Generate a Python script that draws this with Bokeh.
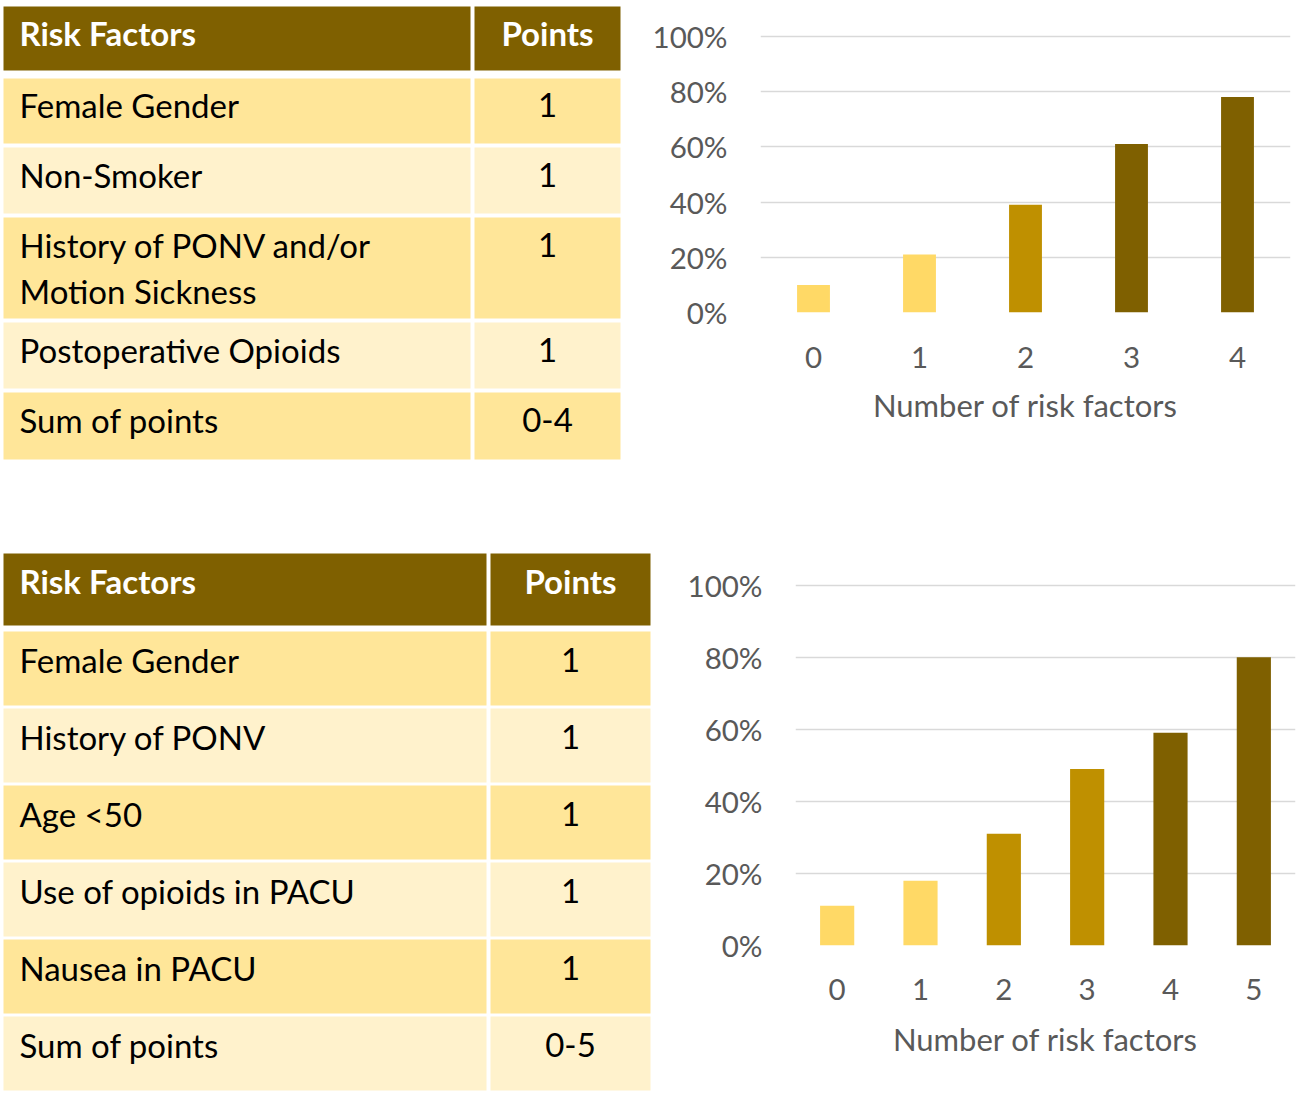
from bokeh.plotting import figure
from bokeh.models import Range1d, FactorRange, NumeralTickFormatter, FixedTicker, ColumnDataSource
from bokeh.layouts import row, column
from bokeh.core.properties import value
from bokeh.embed import file_html
from bokeh.resources import INLINE

# ---------------- data ----------------
table1_header = ["Risk Factors", "Points"]
table1_factors = ["Female Gender", "Non-Smoker", "History of PONV and/or\nMotion Sickness",
                  "Postoperative Opioids", "Sum of points"]
table1_points = ["1", "1", "1", "1", "0-4"]

table2_header = ["Risk Factors", "Points"]
table2_factors = ["Female Gender", "History of PONV", "Age <50", "Use of opioids in PACU",
                  "Nausea in PACU", "Sum of points"]
table2_points = ["1", "1", "1", "1", "1", "0-5"]

chart1_categories = ["0", "1", "2", "3", "4"]
chart1_values = [0.10, 0.21, 0.39, 0.61, 0.78]

chart2_categories = ["0", "1", "2", "3", "4", "5"]
chart2_values = [0.11, 0.18, 0.31, 0.49, 0.59, 0.80]

y_ticks = [0, 0.2, 0.4, 0.6, 0.8, 1.0]
x_title = "Number of risk factors"

# ---------------- styles ----------------
HEADER = "#7F6000"
ROW_DARK = "#FFE699"
ROW_LIGHT = "#FFF2CC"
BAR_LIGHT = "#FFD966"
BAR_MID = "#BF9000"
BAR_DARK = "#7F6000"
GRID = "#D9D9D9"
TICK = "#595959"
FONT = "Lato"

chart1_colors = [BAR_LIGHT, BAR_LIGHT, BAR_MID, BAR_DARK, BAR_DARK]
chart2_colors = [BAR_LIGHT, BAR_LIGHT, BAR_MID, BAR_MID, BAR_DARK, BAR_DARK]


def table_fig(width, height, x_left, x_div, x_right, header_top, header_h, header_gap, row_hs, gap,
              header, factors, points, fs, line_gap, text_x, text_dy, multi_dy):
    p = figure(width=width, height=height, x_range=Range1d(0, width), y_range=Range1d(height, 0),
               output_backend="svg", toolbar_location=None, min_border=0,
               x_axis_location=None, y_axis_location=None)
    p.frame_align = False
    p.grid.visible = False
    p.outline_line_color = None
    p.background_fill_color = "white"
    p.border_fill_color = "white"

    col_l = [x_left, x_div + 4]
    col_r = [x_div, x_right]
    # header cells
    p.quad(left=col_l, right=col_r, top=[header_top] * 2, bottom=[header_top + header_h] * 2,
           fill_color=HEADER, line_color=None)
    hy = header_top + header_h / 2 + text_dy
    p.text(x=[text_x], y=[hy], text=[header[0]], text_font=value(FONT), text_font_size=fs,
           text_font_style="bold", text_color="white", text_align="left", text_baseline="middle")
    p.text(x=[(col_l[1] + col_r[1]) / 2], y=[hy], text=[header[1]], text_font=value(FONT),
           text_font_size=fs, text_font_style="bold", text_color="white", text_align="center",
           text_baseline="middle")

    y = header_top + header_h + header_gap
    lefts, rights, tops, bottoms, fills = [], [], [], [], []
    tx, ty, tt = [], [], []
    px, py, pt = [], [], []
    for i, (f, pts) in enumerate(zip(factors, points)):
        h = row_hs[i]
        fill = ROW_DARK if i % 2 == 0 else ROW_LIGHT
        for c in range(2):
            lefts.append(col_l[c]); rights.append(col_r[c])
            tops.append(y); bottoms.append(y + h); fills.append(fill)
        lines = f.split("\n")
        n = len(lines)
        cy = y + h / 2 + (text_dy if n == 1 else multi_dy)
        for k, ln in enumerate(lines):
            tx.append(text_x)
            ty.append(cy + (k - (n - 1) / 2) * line_gap)
            tt.append(ln)
        px.append((col_l[1] + col_r[1]) / 2)
        py.append(cy - (n - 1) / 2 * line_gap)
        pt.append(pts)
        y += h + gap
    p.quad(left=lefts, right=rights, top=tops, bottom=bottoms, fill_color=fills, line_color=None)
    p.text(x=tx, y=ty, text=tt, text_font=value(FONT), text_font_size=fs, text_color="black",
           text_align="left", text_baseline="middle")
    p.text(x=px, y=py, text=pt, text_font=value(FONT), text_font_size=fs, text_color="black",
           text_align="center", text_baseline="middle")
    return p


def chart_fig(cats, vals, colors, width, height, left, right, top, bottom, bar_w,
              lab_standoff, title_standoff):
    src = ColumnDataSource(dict(x=cats, top=vals, color=colors))
    p = figure(width=width, height=height, x_range=FactorRange(*cats), y_range=Range1d(0, 1.01),
               output_backend="svg", toolbar_location=None,
               min_border_left=left, min_border_right=right, min_border_top=top,
               min_border_bottom=bottom)
    p.frame_align = False
    p.vbar(x="x", top="top", bottom=0, width=bar_w, fill_color="color", line_color=None, source=src)
    p.outline_line_color = None
    p.xgrid.visible = False
    p.ygrid.grid_line_color = GRID
    p.ygrid.grid_line_width = 1.5
    p.yaxis.ticker = FixedTicker(ticks=y_ticks)
    p.yaxis.formatter = NumeralTickFormatter(format="0%")
    for ax in (p.xaxis[0], p.yaxis[0]):
        ax.axis_line_color = None
        ax.major_tick_line_color = None
        ax.minor_tick_line_color = None
        ax.major_tick_out = 0
        ax.major_tick_in = 0
        ax.major_label_text_font = FONT
        ax.major_label_text_font_size = "29.5px"
        ax.major_label_text_color = TICK
    p.yaxis.major_label_standoff = 33
    p.xaxis.major_label_standoff = lab_standoff
    p.xaxis.axis_label = x_title
    p.xaxis.axis_label_text_font = FONT
    p.xaxis.axis_label_text_font_size = "31px"
    p.xaxis.axis_label_text_font_style = "normal"
    p.xaxis.axis_label_text_color = TICK
    p.xaxis.axis_label_standoff = title_standoff
    return p


t1 = table_fig(640, 490, 3, 470, 620, 6, 64, 8, [65, 66, 101, 66, 67], 4,
               table1_header, table1_factors, table1_points, "33px", 46, 19, -6, 0)
c1 = chart_fig(chart1_categories, chart1_values, chart1_colors, 657, 490,
               120, 7, 33, 178, 0.31, 34, 15)

t2 = table_fig(660, 608, 3, 486, 650, 63, 72, 6, [74] * 6, 3,
               table2_header, table2_factors, table2_points, "33px", 46, 19, -9, -9)
c2 = chart_fig(chart2_categories, chart2_values, chart2_colors, 637, 608,
               135, 2, 91, 153, 0.41, 33, 17)

layout = column(row(t1, c1, spacing=0), row(t2, c2, spacing=0), spacing=0)

open("out.html", "w").write(file_html(layout, INLINE))
